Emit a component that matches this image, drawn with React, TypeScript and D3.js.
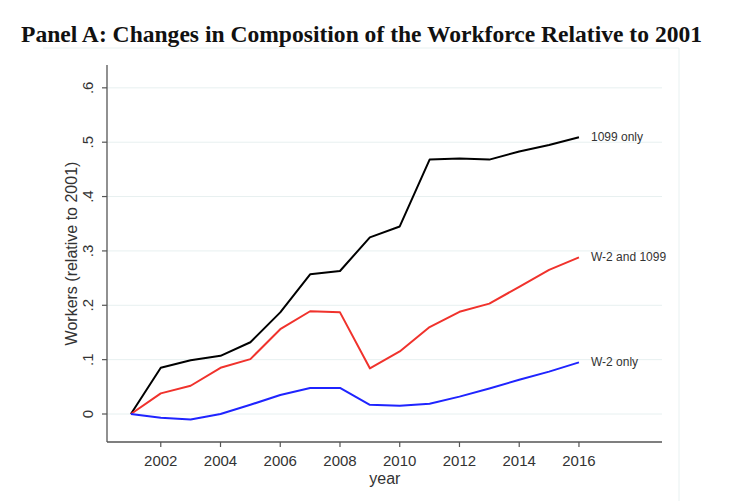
import React from 'react';
import * as d3 from 'd3';

const years = [2001, 2002, 2003, 2004, 2005, 2006, 2007, 2008, 2009, 2010, 2011, 2012, 2013, 2014, 2015, 2016];

const only1099 = [0, 0.085, 0.099, 0.107, 0.132, 0.187, 0.257, 0.263, 0.325, 0.345, 0.468, 0.47, 0.468, 0.483, 0.495, 0.509];
const w2and1099 = [0, 0.038, 0.052, 0.085, 0.101, 0.156, 0.189, 0.187, 0.084, 0.115, 0.16, 0.188, 0.203, 0.234, 0.265, 0.288];
const w2only = [0, -0.007, -0.01, 0, 0.017, 0.035, 0.048, 0.048, 0.017, 0.015, 0.019, 0.032, 0.047, 0.063, 0.078, 0.095];

const xTicks = [2002, 2004, 2006, 2008, 2010, 2012, 2014, 2016];
const yTicks = [0, 0.1, 0.2, 0.3, 0.4, 0.5, 0.6];
const yTickLabels = ['0', '.1', '.2', '.3', '.4', '.5', '.6'];

const seriesList = [
  { name: '1099 only', values: only1099, color: '#000000' },
  { name: 'W-2 and 1099', values: w2and1099, color: '#f0322c' },
  { name: 'W-2 only', values: w2only, color: '#1f24ff' },
];

const W = 734;
const H = 501;
const plot = { left: 107, right: 662, top: 65, bottom: 442 };
const axisFont = '"Liberation Sans", Arial, sans-serif';
const textColor = '#333';

const App: React.FC = () => {
  const x = d3.scaleLinear().domain([2000.2, 2018.78]).range([plot.left, plot.right]);
  const y = d3.scaleLinear().domain([-0.0515, 0.642]).range([plot.bottom, plot.top]);

  const line = d3
    .line<number>()
    .x((_, i) => x(years[i]))
    .y((d) => y(d));

  const yMid = (plot.top + plot.bottom) / 2;

  return (
    <div style={{ position: 'absolute', left: 0, top: 0, width: W, height: H, background: '#fff' }}>
      <svg width={W} height={H} viewBox={`0 0 ${W} ${H}`} style={{ display: 'block' }}>
        <rect x={0} y={0} width={W} height={H} fill="#fff" />

        {/* title */}
        <text
          x={21}
          y={41.5}
          textLength={681}
          lengthAdjust="spacingAndGlyphs"
          fontFamily='"Liberation Serif", "Times New Roman", serif'
          fontWeight="bold"
          fontSize={23}
          fill="#111"
        >
          Panel A: Changes in Composition of the Workforce Relative to 2001
        </text>

        {/* faint outer frame */}
        <line x1={43} x2={679} y1={48} y2={48} stroke="#e8f1f1" strokeWidth={1} />
        <line x1={679} x2={679} y1={48} y2={H} stroke="#e8f1f1" strokeWidth={1} />

        {/* grid */}
        {yTicks.map((t) => (
          <line
            key={'g' + t}
            x1={plot.left}
            x2={plot.right}
            y1={y(t)}
            y2={y(t)}
            stroke="#e7f0f0"
            strokeWidth={1}
          />
        ))}

        {/* axes */}
        <line x1={plot.left} x2={plot.left} y1={plot.top} y2={plot.bottom} stroke="#555" strokeWidth={1.3} />
        <line x1={plot.left} x2={plot.right} y1={plot.bottom} y2={plot.bottom} stroke="#555" strokeWidth={1.3} />

        {yTicks.map((t, i) => (
          <g key={'y' + t}>
            <line x1={plot.left - 5} x2={plot.left} y1={y(t)} y2={y(t)} stroke="#555" strokeWidth={1.2} />
            <text
              transform={`translate(${plot.left - 14}, ${y(t)}) rotate(-90)`}
              textAnchor="middle"
              fontFamily={axisFont}
              fontSize={15}
              fill={textColor}
            >
              {yTickLabels[i]}
            </text>
          </g>
        ))}

        {xTicks.map((t) => (
          <g key={'x' + t}>
            <line x1={x(t)} x2={x(t)} y1={plot.bottom} y2={plot.bottom + 5} stroke="#555" strokeWidth={1.2} />
            <text x={x(t)} y={plot.bottom + 24} textAnchor="middle" fontFamily={axisFont} fontSize={15} fill={textColor}>
              {t}
            </text>
          </g>
        ))}

        <text x={x(2009.5)} y={484} textAnchor="middle" fontFamily={axisFont} fontSize={16} fill={textColor}>
          year
        </text>
        <text
          transform={`translate(77, ${yMid}) rotate(-90)`}
          textAnchor="middle"
          fontFamily={axisFont}
          fontSize={16}
          fill={textColor}
        >
          Workers (relative to 2001)
        </text>

        {/* series */}
        {seriesList.map((s) => (
          <g key={s.name}>
            <path d={line(s.values) || ''} fill="none" stroke={s.color} strokeWidth={2} strokeLinejoin="round" />
            <text
              x={x(years[years.length - 1]) + 12}
              y={y(s.values[s.values.length - 1]) + 4}
              fontFamily={axisFont}
              fontSize={12}
              fill={textColor}
            >
              {s.name}
            </text>
          </g>
        ))}
      </svg>
    </div>
  );
};

export default App;
